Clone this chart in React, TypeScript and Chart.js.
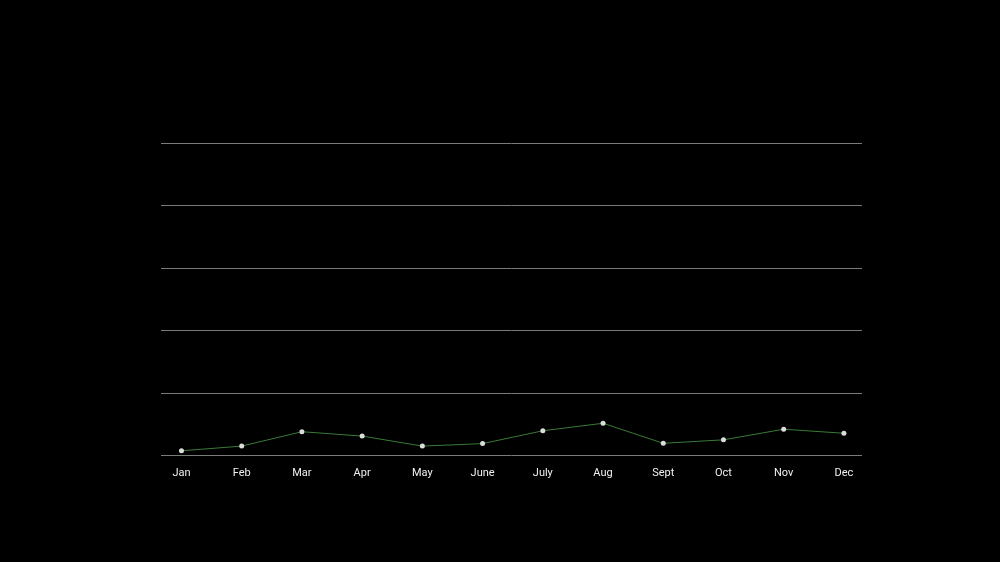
import React, { useEffect, useRef } from "react";
import { Chart, registerables } from "chart.js";

Chart.register(...registerables);

const MONTHS = ["Jan", "Feb", "Mar", "Apr", "May", "June", "July", "Aug", "Sept", "Oct", "Nov", "Dec"];
const VALUES = [1.6, 3.1, 7.7, 6.3, 3.1, 3.9, 8.0, 10.4, 4.0, 5.1, 8.5, 7.2];
const Y_MIN = 0;
const Y_MAX = 100;
const Y_STEP = 20;

export default function App() {
  const ref = useRef<HTMLCanvasElement | null>(null);

  useEffect(() => {
    if (!ref.current) return;
    const chart = new Chart(ref.current, {
      type: "line",
      data: {
        datasets: [
          {
            data: VALUES.map((v, i) => ({ x: i, y: v })),
            borderColor: "#3a7a36",
            borderWidth: 1,
            pointBackgroundColor: "#dcdcdc",
            pointBorderColor: "#dcdcdc",
            pointRadius: 2.5,
            pointBorderWidth: 0,
            tension: 0,
          },
        ],
      },
      options: {
        animation: false,
        responsive: false,
        maintainAspectRatio: false,
        layout: { padding: { left: 161, right: 138, top: 143, bottom: 79 } },
        plugins: { legend: { display: false }, tooltip: { enabled: false } },
        scales: {
          x: {
            type: "linear",
            min: -0.34,
            max: 11.3,
            grid: { display: false },
            border: { display: false },
            afterBuildTicks: (scale: any) => {
              scale.ticks = MONTHS.map((_, i) => ({ value: i }));
            },
            ticks: {
              autoSkip: false,
              maxRotation: 0,
              color: "#f0f0f0",
              padding: 3,
              font: { family: "Roboto", size: 11 },
              callback: (v: any) => MONTHS[Math.round(Number(v))] ?? "",
            },
          },
          y: {
            min: Y_MIN,
            max: Y_MAX,
            ticks: { stepSize: Y_STEP, display: false },
            grid: { color: "#7a7a7a", lineWidth: 1, drawTicks: false },
            border: { display: false },
          },
        },
      },
    });
    return () => chart.destroy();
  }, []);

  return (
    <div style={{ position: "fixed", left: 0, top: 0, width: 1000, height: 562, background: "#000" }}>
      <canvas ref={ref} width={1000} height={562} style={{ display: "block" }} />
    </div>
  );
}
